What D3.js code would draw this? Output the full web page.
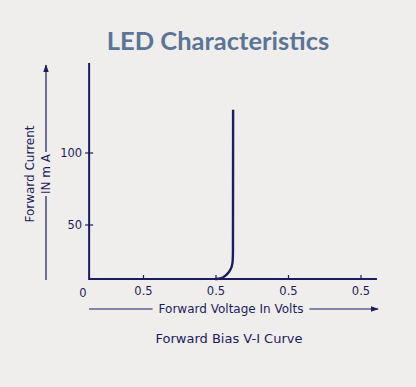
<!DOCTYPE html>
<html>
<head>
<meta charset="utf-8">
<script src="https://cdn.jsdelivr.net/npm/d3@7"></script>
<style>
  body { margin: 0; background: #efeeec; }
  svg { display: block; }
</style>
</head>
<body>
<svg id="chart" width="416" height="387"></svg>
<script>
// tick labels, as printed on the original (every x tick says 0.5)
const xTickValues = [1, 2, 3, 4];
const xTickLabels = ['0.5', '0.5', '0.5', '0.5'];
const yTickValues = [50, 100];

// curve points: x in tick units, y in mA
const curveX = [1.986, 2.055, 2.124, 2.179, 2.214, 2.230, 2.234, 2.236];
const curveY = [12.5, 12.85, 14.6, 17.4, 20.8, 25.0, 32.6, 130];

const ink = '#1e1c60';
const svg = d3.select('#chart');

const x = d3.scaleLinear().domain([0, 4]).range([71, 361]);
const y = d3.scaleLinear().domain([0, 100]).range([297, 153]);

// title
svg.append('text')
    .attr('x', 218).attr('y', 50)
    .attr('text-anchor', 'middle')
    .attr('font-family', 'Lato, "Open Sans", sans-serif')
    .attr('font-weight', 'bold')
    .attr('font-size', 25.5)
    .attr('fill', '#5c7495')
    .text('LED Characteristics');

// axes lines
const x0 = x(0.25), x1 = x(4.22), yTop = y(162.5), yBot = y(12.5);
svg.append('path')
    .attr('d', `M${x0},${yTop}V${yBot}H${x1}`)
    .attr('fill', 'none').attr('stroke', ink).attr('stroke-width', 2);

// y ticks
const yTicks = svg.append('g').selectAll('g').data(yTickValues).join('g')
    .attr('transform', d => `translate(${x0},${y(d)})`);
yTicks.append('line').attr('x1', -4).attr('x2', 4).attr('stroke', ink).attr('stroke-width', 1.2);
yTicks.append('text').attr('x', -7).attr('dy', '0.35em')
    .attr('text-anchor', 'end')
    .attr('font-family', '"DejaVu Sans", Verdana, sans-serif').attr('font-size', 11.5)
    .attr('fill', ink).text(d => d);

// x ticks
const xTicks = svg.append('g').selectAll('g').data(xTickValues).join('g')
    .attr('transform', d => `translate(${x(d)},${yBot})`);
xTicks.append('line').attr('y1', -4).attr('y2', 0).attr('stroke', ink).attr('stroke-width', 1.2);
xTicks.append('text').attr('y', 16)
    .attr('text-anchor', 'middle')
    .attr('font-family', '"DejaVu Sans", Verdana, sans-serif').attr('font-size', 11.5)
    .attr('fill', ink).text((d, i) => xTickLabels[i]);

svg.append('text').attr('x', 83).attr('y', yBot + 18)
    .attr('text-anchor', 'middle')
    .attr('font-family', '"DejaVu Sans", Verdana, sans-serif').attr('font-size', 11.5)
    .attr('fill', ink).text('0');

// curve
svg.append('path')
    .datum(curveX.map((v, i) => [v, curveY[i]]))
    .attr('d', d3.line().x(d => x(d[0])).y(d => y(d[1])).curve(d3.curveMonotoneY))
    .attr('fill', 'none').attr('stroke', ink).attr('stroke-width', 2.4);

// arrow markers
svg.append('defs').append('marker')
    .attr('id', 'arr').attr('viewBox', '0 0 10 10')
    .attr('refX', 9).attr('refY', 5)
    .attr('markerWidth', 8).attr('markerHeight', 8)
    .attr('markerUnits', 'userSpaceOnUse')
    .attr('orient', 'auto')
    .append('path').attr('d', 'M0,1.5L10,5L0,8.5Z').attr('fill', ink);

// y arrow with label
const ax = 46, ayTop = 65, ayBot = 280, ayMid = 174;
svg.append('line').attr('x1', ax).attr('x2', ax).attr('y1', ayBot).attr('y2', ayMid + 22)
    .attr('stroke', ink).attr('stroke-width', 1.2);
svg.append('line').attr('x1', ax).attr('x2', ax).attr('y1', ayMid - 22).attr('y2', ayTop)
    .attr('stroke', ink).attr('stroke-width', 1.2).attr('marker-end', 'url(#arr)');
const yLab = svg.append('text')
    .attr('transform', `translate(${ax},${ayMid}) rotate(-90)`)
    .attr('text-anchor', 'middle')
    .attr('font-family', '"DejaVu Sans", Verdana, sans-serif').attr('font-size', 12)
    .attr('fill', ink);
yLab.append('tspan').attr('x', 0).attr('y', -12).text('Forward Current');
yLab.append('tspan').attr('x', 0).attr('y', 4).text('IN m A');

// x arrow with label
const bx0 = 89, bx1 = 378, by = 309, bMid = 231;
const xLab = svg.append('text').attr('x', bMid).attr('y', by + 4)
    .attr('text-anchor', 'middle')
    .attr('font-family', '"DejaVu Sans", Verdana, sans-serif').attr('font-size', 12)
    .attr('fill', ink).text('Forward Voltage In Volts');
const half = xLab.node().getComputedTextLength() / 2 + 6;
svg.append('line').attr('x1', bx0).attr('x2', bMid - half).attr('y1', by).attr('y2', by)
    .attr('stroke', ink).attr('stroke-width', 1.2);
svg.append('line').attr('x1', bMid + half).attr('x2', bx1).attr('y1', by).attr('y2', by)
    .attr('stroke', ink).attr('stroke-width', 1.2).attr('marker-end', 'url(#arr)');

// caption
svg.append('text').attr('x', 229).attr('y', 343)
    .attr('text-anchor', 'middle')
    .attr('font-family', '"DejaVu Sans", Verdana, sans-serif').attr('font-size', 13)
    .attr('fill', ink).text('Forward Bias V-I Curve');
</script>
</body>
</html>
